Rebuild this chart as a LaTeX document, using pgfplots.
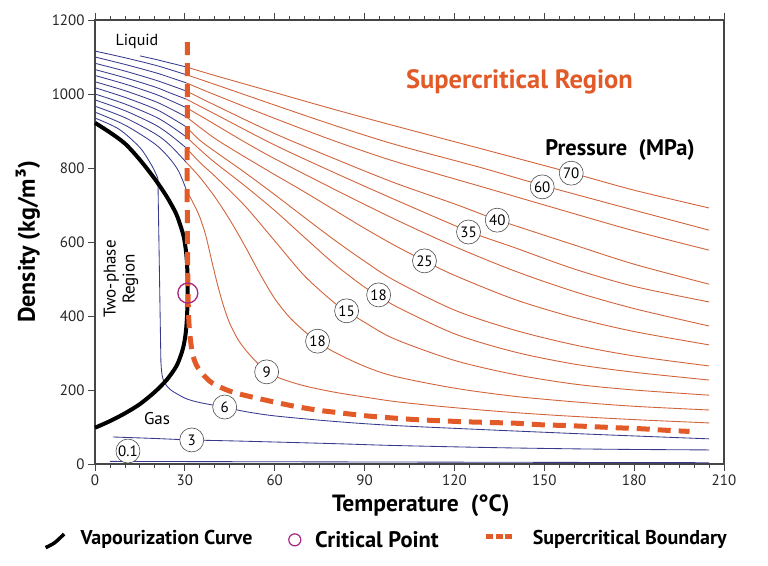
\documentclass[border=0pt]{standalone}
\usepackage{fontspec}
\setmainfont{PT Sans}
\usepackage{pgfplots}
\pgfplotsset{compat=1.18}
\definecolor{navy}{RGB}{55,58,140}
\definecolor{isoor}{RGB}{210,100,60}
\definecolor{dashor}{RGB}{226,90,40}
\definecolor{critmag}{RGB}{168,38,128}
\definecolor{axgray}{RGB}{70,70,70}
\tikzset{plab/.style={circle, draw=black!70, line width=0.6pt, fill=white, inner sep=0pt, minimum size=24pt, font=\fontsize{15}{15}\selectfont}}
\begin{document}
\begin{tikzpicture}
\useasboundingbox (0,0) rectangle (768pt,565pt);
\begin{axis}[
  at={(95pt,101pt)}, anchor=south west,
  scale only axis, width=629pt, height=444pt,
  xmin=0, xmax=210, ymin=0, ymax=1200,
  xtick={0,30,...,210}, ytick={0,200,...,1200},
  minor x tick num=5,
  xtick pos=both, xticklabel pos=lower, ytick pos=left,
  tick align=outside,
  major tick length=7pt, minor tick length=4pt,
  axis line style={draw=axgray, line width=1.1pt},
  tick style={draw=axgray, line width=0.9pt},
  tick label style={font=\fontsize{15}{16}\selectfont, text=black!85},
  /pgf/number format/assume math mode=true,
  /pgf/number format/1000 sep={},
  scaled y ticks=false,
  clip=false,
  xlabel={Temperature~~(°C)}, ylabel={Density (kg/m³)},
  xlabel style={font=\bfseries\fontsize{23.5}{25}\selectfont, at={(axis description cs:0.518,-0.094)}, anchor=center},
  ylabel style={font=\bfseries\fontsize{24}{25}\selectfont, at={(axis description cs:-0.1065,0.5)}, anchor=center},
  blu/.style={navy, line width=0.85pt, smooth, tension=0.5},
  oran/.style={isoor, line width=0.9pt, smooth, tension=0.5},
]
% ---- liquid (blue) parts of isobars
\addplot[blu] coordinates {(15,1103)(20,1094)(25,1084)(30.5,1073)};
\addplot[blu] coordinates {(0,1116)(10,1098)(20,1078)(25,1066)(30.5,1052)};
\addplot[blu] coordinates {(0,1100)(10,1080)(20,1058)(25,1045)(30.5,1030)};
\addplot[blu] coordinates {(0,1083)(10,1062)(20,1038)(25,1024)(30.5,1008)};
\addplot[blu] coordinates {(0,1066)(10,1044)(20,1019)(25,1003)(30.5,986)};
\addplot[blu] coordinates {(0,1050)(10,1027)(20,1000)(25,983)(30.5,963)};
\addplot[blu] coordinates {(0,1033)(10,1009)(20,980)(25,961)(30.5,938)};
\addplot[blu] coordinates {(0,1017)(10,991)(20,960)(25,938)(30.5,911)};
\addplot[blu] coordinates {(0,1000)(10,973)(20,939)(25,915)(30.5,884)};
\addplot[blu] coordinates {(0,984)(10,955)(20,917)(25,890)(30.5,854)};
\addplot[blu] coordinates {(0,967)(10,936)(20,893)(25,862)(30.5,815)};
\addplot[blu] coordinates {(0,951)(10,916)(20,865)(25,825)(28,790)(30.5,741)};
% 6 MPa
\addplot[blu] coordinates {(0,935)(8,905)(15,855)(19,806)(21,772)};
\addplot[navy, line width=0.85pt] coordinates {(21,772)(22,275)};
\addplot[blu] coordinates {(22,275)(22.4,240)(23.2,220)(25,202)(27.5,189)(30.6,176)(35,166)(43,154)(50,142)(60,130)(80,115)(100,104)(135,91)(170,79)(205,68)};
% 3 MPa and 0.1 MPa
\addplot[blu] coordinates {(6,73)(20,69)(32,65)(48,62)(80,55)(100,50)(135,44)(170,40)(205,38)};
\addplot[navy, line width=0.85pt] coordinates {(5,7)(205,3.5)};
% ---- supercritical (orange) parts
\addplot[oran] coordinates {(30.5,1073)(40,1050)(60,1004)(80,958)(100,914)(128,854)(159,787)(180,740)(205,692)};
\addplot[oran] coordinates {(30.5,1052)(40,1026)(60,970)(80,915)(100,864)(128,803)(149,754)(180,686)(205,632)};
\addplot[oran] coordinates {(30.5,1030)(40,998)(60,934)(80,873)(100,818)(128,752)(150,700)(180,630)(205,578)};
\addplot[oran] coordinates {(30.5,1008)(40,970)(60,893)(80,825)(100,760)(120,703)(134,661)(160,592)(180,540)(205,486)};
\addplot[oran] coordinates {(30.5,986)(40,946)(60,862)(80,787)(100,715)(125,628)(140,585)(160,527)(180,480)(205,438)};
\addplot[oran] coordinates {(30.5,963)(40,918)(50,870)(60,825)(80,742)(100,662)(120,588)(140,522)(160,466)(180,420)(205,373)};
\addplot[oran] coordinates {(30.5,938)(40,880)(50,830)(60,782)(70,735)(80,686)(90,637)(100,591)(110,549)(120,510)(140,445)(160,396)(180,358)(205,322)};
\addplot[oran] coordinates {(30.5,911)(35,875)(40,845)(50,788)(60,728)(70,666)(80,605)(90,548)(100,496)(120,416)(140,362)(160,322)(180,292)(205,265)};
\addplot[oran] coordinates {(30.5,884)(35,850)(40,815)(50,752)(60,685)(70,612)(80,540)(90,478)(95,456)(100,428)(120,352)(140,303)(160,270)(180,248)(205,227)};
\addplot[oran] coordinates {(30.5,854)(35,815)(40,778)(50,698)(60,603)(70,508)(80,435)(84,414)(90,383)(100,338)(120,280)(140,242)(160,216)(180,200)(205,186)};
\addplot[oran] coordinates {(30.5,815)(35,775)(40,722)(45,660)(50,590)(55,515)(60,447)(65,396)(70,358)(74,332)(80,302)(90,264)(100,237)(120,205)(140,183)(160,168)(180,156)(205,146)};
\addplot[oran] coordinates {(30.5,741)(33,702)(35,667)(37,617)(39,548)(41,482)(43,425)(45,380)(48,333)(52,292)(57,252)(62,231)(70,211)(80,194)(90,181)(100,169)(115,156)(135,142)(155,131)(180,120)(205,111)};
% ---- vaporization curve
\addplot[black, line width=4pt, smooth, tension=0.5] coordinates {(0,98)(5,116)(10,137)(15,162)(20,195)(24,228)(27,262)(28.5,290)(29.6,320)(30.3,355)(30.7,395)(30.9,440)(30.95,470)(30.9,505)(30.7,545)(30.3,580)(29.6,615)(28.5,645)(27,678)(24,722)(20,770)(15,822)(10,866)(5,896)(0,922)};
% ---- supercritical boundary
\addplot[dashor, line width=5pt, dash pattern=on 13pt off 8pt, smooth, tension=0.5] coordinates {(30.8,1140)(30.8,900)(30.8,700)(30.9,560)(31.1,440)(31.5,365)(32.5,300)(34,265)(36.5,238)(39.3,218)(44,200)(48.3,189)(57.3,172)(66,157)(74,146)(82,138)(90.7,130)(98.3,125)(107,120)(115,117)(124,114)(132.7,112)(141,110)(149,106)(157,104)(166,101)(174,98)(183,95)(191,91)(198.5,88)};
% ---- critical point
\addplot[only marks, mark=o, mark size=10pt, critmag, mark options={line width=1.3pt}] coordinates {(31,462)};
% ---- pressure labels
\node[plab] at (11,35) {0.1};
\node[plab] at (32.3,65) {3};
\node[plab] at (43.3,154) {6};
\node[plab] at (57.3,249) {9};
\node[plab] at (74.3,332) {18};
\node[plab] at (84,414) {15};
\node[plab] at (94.7,457) {18};
\node[plab] at (110,549) {25};
\node[plab] at (124.7,627) {35};
\node[plab] at (134.3,659) {40};
\node[plab] at (149.3,749) {60};
\node[plab] at (159,786) {70};
% ---- region texts
\node[font=\fontsize{16}{16}\selectfont] at (14,1141) {Liquid};
\node[font=\bfseries\fontsize{26.5}{27}\selectfont, text=dashor] at (141.7,1032) {Supercritical Region};
\node[font=\bfseries\fontsize{22.5}{23}\selectfont] at (175.3,849) {Pressure~~(MPa)};
\node[font=\fontsize{17}{19}\selectfont, rotate=90, align=center] at (8.7,500) {Two-phase\\Region};
\node[font=\fontsize{17}{17}\selectfont] at (20.7,124) {Gas};
% ---- legend
\addplot[black, line width=3.5pt, smooth] coordinates {(-16.5,-226)(-13.5,-213)(-10.3,-189)};
\node[anchor=west, font=\bfseries\fontsize{20}{20}\selectfont] at (-6,-205) {Vapourization Curve};
\addplot[only marks, mark=o, mark size=6pt, critmag, mark options={line width=1.2pt}] coordinates {(66.7,-205)};
\node[anchor=west, font=\bfseries\fontsize{22.5}{22.5}\selectfont] at (72.3,-205) {Critical Point};
\addplot[dashor, line width=5pt, dash pattern=on 7pt off 2.5pt] coordinates {(130.7,-197)(139.2,-197)};
\node[anchor=west, font=\bfseries\fontsize{20}{20}\selectfont] at (145,-205) {Supercritical Boundary};
\end{axis}
\end{tikzpicture}
\end{document}
